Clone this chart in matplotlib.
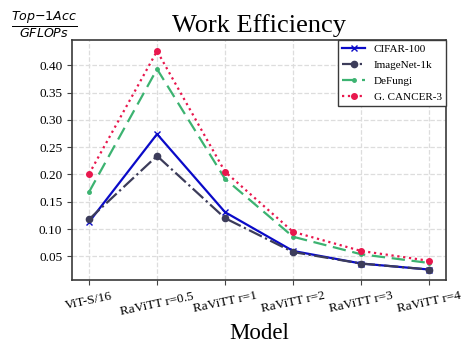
import matplotlib
matplotlib.use("Agg")
import matplotlib.pyplot as plt

models = ["ViT-S/16", "RaViTT r=0.5", "RaViTT r=1", "RaViTT r=2", "RaViTT r=3", "RaViTT r=4"]
cifar100 = [0.113, 0.274, 0.131, 0.060, 0.037, 0.026]
imagenet1k = [0.118, 0.234, 0.120, 0.058, 0.037, 0.026]
defungi = [0.168, 0.393, 0.192, 0.086, 0.054, 0.038]
gcancer3 = [0.201, 0.426, 0.205, 0.095, 0.060, 0.042]

plt.rcParams["font.family"] = ["Liberation Serif", "DejaVu Sans"]
plt.rcParams["mathtext.fontset"] = "dejavusans"

fig, ax = plt.subplots(figsize=(4.74, 3.55), dpi=100)
x = list(range(len(models)))

ax.plot(x, cifar100, color="#0a0ac8", linestyle="-", marker="x", markersize=5, lw=1.6, label="CIFAR-100")
ax.plot(x, imagenet1k, color="#3c3c5a", linestyle="-.", marker="o", markersize=4.5, lw=1.6, label="ImageNet-1k")
ax.plot(x, defungi, color="#3cb371", linestyle=(0, (6, 3)), marker=".", markersize=5, lw=1.6, label="DeFungi")
ax.plot(x, gcancer3, color="#e8174d", linestyle=":", marker="o", markersize=4, lw=1.6, label="G. CANCER-3")

ax.set_xticks(x)
ax.set_xticklabels(models, rotation=12, fontsize=9.5)
ax.set_yticks([0.05, 0.10, 0.15, 0.20, 0.25, 0.30, 0.35, 0.40])
ax.tick_params(axis="y", labelsize=9.5)
ax.tick_params(length=3.5, color="#444444")
ax.set_ylim(0.006, 0.446)
ax.grid(True, linestyle="--", color="#dddddd", lw=0.9)
for s in ax.spines.values():
    s.set_color("#3a3a3a")
    s.set_linewidth(1.2)

ax.set_title("Work Efficiency", fontsize=19)
ax.set_xlabel("Model", fontsize=16.5, labelpad=4)
fig.text(0.093, 0.93, r"$\frac{Top\mathrm{-}1Acc}{GFLOPs}$", fontsize=13, ha="center", va="center")

ax.legend(loc="upper right", fontsize=8, fancybox=False, edgecolor="#3a3a3a",
          framealpha=1, borderaxespad=0, handlelength=2.0, labelspacing=0.55)

fig.subplots_adjust(left=0.152, right=0.941, top=0.887, bottom=0.21)
fig.savefig("out.png", dpi=100)
